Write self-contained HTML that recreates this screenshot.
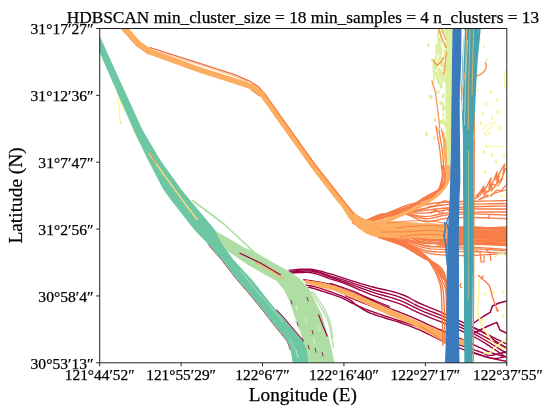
<!DOCTYPE html>
<html><head><meta charset="utf-8">
<style>
html,body{margin:0;padding:0;background:#fff;}
svg{display:block;}
text{font-family:"Liberation Serif",serif;fill:#000;stroke:#000;stroke-width:0.25px;}
.tk{font-size:15.4px;}
#plot path{fill:none;stroke-linejoin:round;stroke-linecap:butt;}
</style></head><body>
<svg width="550" height="409" viewBox="0 0 550 409">
<rect width="550" height="409" fill="#fff"/>
<defs><clipPath id="cp"><rect x="99.7" y="28.5" width="407.1" height="334.3"/></clipPath></defs>
<text id="title" x="302.9" y="22.8" font-size="17.3" text-anchor="middle">HDBSCAN min_cluster_size = 18 min_samples = 4 n_clusters = 13</text>
<g id="plot" clip-path="url(#cp)">
<path d="M113.0 72.0L118.0 95.0L120.0 121.0" stroke="#f9f79c" stroke-width="1.2"/>
<path d="M117.0 86.0L123.0 111.0" stroke="#f9f79c" stroke-width="1.0"/>
<path d="M131.0 120.0L134.0 132.0L140.0 142.0" stroke="#f9f79c" stroke-width="1.2"/>
<path d="M120.0 121.0L121.0 124.0" stroke="#fdd784" stroke-width="1.2"/>
<path d="M434.0 60.0L433.6 68.4" stroke="#dcf09b" stroke-width="2.4525130310831167" style="stroke-linecap:round"/>
<path d="M433.8 71.2L434.7 74.2" stroke="#dcf09b" stroke-width="2.71887054195497" style="stroke-linecap:round"/>
<path d="M434.1 75.7L433.4 83.5" stroke="#dcf09b" stroke-width="1.8021298346430417" style="stroke-linecap:round"/>
<path d="M436.7 45.1L436.6 52.2" stroke="#dcf09b" stroke-width="2.9598771747806345" style="stroke-linecap:round"/>
<path d="M436.0 55.8L435.7 60.6" stroke="#dcf09b" stroke-width="1.8781676560508116" style="stroke-linecap:round"/>
<path d="M436.5 62.5L436.0 69.2" stroke="#dcf09b" stroke-width="2.1719495179237547" style="stroke-linecap:round"/>
<path d="M436.3 72.6L436.6 78.5" stroke="#dcf09b" stroke-width="1.868401115442948" style="stroke-linecap:round"/>
<path d="M438.7 29.1L437.8 36.8" stroke="#dcf09b" stroke-width="1.8560725424387299" style="stroke-linecap:round"/>
<path d="M438.9 38.3L439.3 47.1" stroke="#dcf09b" stroke-width="2.9304525953132394" style="stroke-linecap:round"/>
<path d="M438.9 49.1L438.0 54.2" stroke="#dcf09b" stroke-width="2.698077667781596" style="stroke-linecap:round"/>
<path d="M439.0 57.6L437.9 65.8" stroke="#dcf09b" stroke-width="2.208888642605067" style="stroke-linecap:round"/>
<path d="M439.0 68.6L438.7 77.1" stroke="#dcf09b" stroke-width="2.1749404432114883" style="stroke-linecap:round"/>
<path d="M438.2 79.1L438.9 83.1" stroke="#dcf09b" stroke-width="2.9960721774440446" style="stroke-linecap:round"/>
<path d="M441.3 30.6L440.9 35.0" stroke="#dcf09b" stroke-width="2.3061087382939074" style="stroke-linecap:round"/>
<path d="M441.0 36.2L441.5 44.7" stroke="#dcf09b" stroke-width="1.956686192583744" style="stroke-linecap:round"/>
<path d="M441.3 47.9L440.4 56.6" stroke="#dcf09b" stroke-width="2.3214662287205243" style="stroke-linecap:round"/>
<path d="M441.0 58.1L441.8 66.1" stroke="#dcf09b" stroke-width="2.822703205072491" style="stroke-linecap:round"/>
<path d="M441.2 70.0L441.0 75.8" stroke="#dcf09b" stroke-width="2.14922714057637" style="stroke-linecap:round"/>
<path d="M441.5 78.0L441.7 81.9" stroke="#dcf09b" stroke-width="2.552357965145807" style="stroke-linecap:round"/>
<path d="M440.8 84.4L441.5 87.4" stroke="#dcf09b" stroke-width="2.8408641681327627" style="stroke-linecap:round"/>
<path d="M443.6 63.6L444.0 69.8" stroke="#dcf09b" stroke-width="2.3726867194431263" style="stroke-linecap:round"/>
<path d="M443.0 72.8L443.7 80.2" stroke="#dcf09b" stroke-width="2.497014360276954" style="stroke-linecap:round"/>
<path d="M443.5 94.7L442.9 97.2" stroke="#dcf09b" stroke-width="2.6231486783671363" style="stroke-linecap:round"/>
<path d="M443.1 103.9L442.8 106.1" stroke="#dcf09b" stroke-width="2.032032122149951" style="stroke-linecap:round"/>
<path d="M443.4 107.2L443.4 110.6" stroke="#dcf09b" stroke-width="2.0854156915964057" style="stroke-linecap:round"/>
<path d="M443.1 114.3L443.2 116.3" stroke="#dcf09b" stroke-width="1.9380893262224377" style="stroke-linecap:round"/>
<path d="M443.4 119.8L442.7 122.9" stroke="#dcf09b" stroke-width="2.4542650358019564" style="stroke-linecap:round"/>
<path d="M445.4 30.5L446.0 34.3" stroke="#dcf09b" stroke-width="2.9615963023869667" style="stroke-linecap:round"/>
<path d="M445.4 43.3L444.7 46.9" stroke="#dcf09b" stroke-width="2.5553475547715996" style="stroke-linecap:round"/>
<path d="M445.0 50.6L445.0 55.8" stroke="#dcf09b" stroke-width="2.966945553198146" style="stroke-linecap:round"/>
<path d="M445.8 76.6L445.3 82.1" stroke="#dcf09b" stroke-width="2.1436780227120944" style="stroke-linecap:round"/>
<path d="M445.8 106.0L445.0 108.8" stroke="#dcf09b" stroke-width="2.529645109109431" style="stroke-linecap:round"/>
<path d="M445.1 122.6L445.3 126.2" stroke="#dcf09b" stroke-width="2.3572040887155956" style="stroke-linecap:round"/>
<ellipse cx="428.5" cy="45.0" rx="1.2" ry="2.0" fill="#dcf09b"/>
<ellipse cx="430.5" cy="97.0" rx="1.5" ry="2.3" fill="#dcf09b"/>
<ellipse cx="438.0" cy="92.0" rx="1.8" ry="2.0" fill="#dcf09b"/>
<ellipse cx="441.0" cy="103.0" rx="1.8" ry="2.0" fill="#dcf09b"/>
<ellipse cx="435.0" cy="120.0" rx="1.3" ry="2.0" fill="#dcf09b"/>
<ellipse cx="441.0" cy="122.0" rx="1.5" ry="2.5" fill="#dcf09b"/>
<ellipse cx="437.5" cy="129.0" rx="1.3" ry="2.2" fill="#dcf09b"/>
<ellipse cx="426.5" cy="134.0" rx="1.3" ry="2.5" fill="#dcf09b"/>
<ellipse cx="434.5" cy="138.0" rx="1.2" ry="2.0" fill="#dcf09b"/>
<ellipse cx="432.0" cy="60.0" rx="1.2" ry="1.6" fill="#dcf09b"/>
<ellipse cx="491.0" cy="92.0" rx="1.3" ry="1.9" fill="#f9f79c"/>
<ellipse cx="497.0" cy="100.0" rx="1.3" ry="1.9" fill="#f9f79c"/>
<ellipse cx="485.5" cy="104.0" rx="1.3" ry="1.9" fill="#f9f79c"/>
<ellipse cx="483.0" cy="114.0" rx="1.3" ry="1.9" fill="#f9f79c"/>
<ellipse cx="498.0" cy="112.0" rx="1.3" ry="1.9" fill="#f9f79c"/>
<ellipse cx="492.0" cy="118.0" rx="1.3" ry="1.9" fill="#f9f79c"/>
<ellipse cx="481.0" cy="123.0" rx="1.3" ry="1.9" fill="#f9f79c"/>
<ellipse cx="499.0" cy="128.0" rx="1.3" ry="1.9" fill="#f9f79c"/>
<ellipse cx="484.0" cy="152.0" rx="1.3" ry="1.9" fill="#f9f79c"/>
<ellipse cx="492.0" cy="155.0" rx="1.3" ry="1.9" fill="#f9f79c"/>
<ellipse cx="504.0" cy="155.0" rx="1.3" ry="1.9" fill="#f9f79c"/>
<ellipse cx="496.0" cy="162.0" rx="1.3" ry="1.9" fill="#f9f79c"/>
<ellipse cx="485.0" cy="172.0" rx="1.3" ry="1.9" fill="#f9f79c"/>
<ellipse cx="502.0" cy="196.0" rx="1.3" ry="1.9" fill="#f9f79c"/>
<ellipse cx="484.7" cy="293.7" rx="1.3" ry="1.9" fill="#f9f79c"/>
<ellipse cx="493.5" cy="292.6" rx="1.3" ry="1.9" fill="#f9f79c"/>
<ellipse cx="502.8" cy="292.6" rx="1.3" ry="1.9" fill="#f9f79c"/>
<ellipse cx="482.5" cy="319.0" rx="1.3" ry="1.9" fill="#f9f79c"/>
<ellipse cx="502.8" cy="315.7" rx="1.3" ry="1.9" fill="#f9f79c"/>
<ellipse cx="487.0" cy="340.0" rx="1.3" ry="1.9" fill="#f9f79c"/>
<ellipse cx="500.0" cy="175.0" rx="1.3" ry="1.9" fill="#f9f79c"/>
<ellipse cx="480.0" cy="40.0" rx="0.8" ry="1.2" fill="#dcf09b"/>
<ellipse cx="484.0" cy="47.0" rx="0.8" ry="1.2" fill="#dcf09b"/>
<ellipse cx="487.0" cy="60.0" rx="0.8" ry="1.2" fill="#dcf09b"/>
<ellipse cx="483.0" cy="72.0" rx="0.8" ry="1.2" fill="#dcf09b"/>
<ellipse cx="478.0" cy="90.0" rx="0.8" ry="1.2" fill="#dcf09b"/>
<path d="M483.0 131.0L485.0 126.0L490.0 124.0L495.0 122.0L492.0 127.0L488.0 130.0L484.0 134.0L486.0 136.0L491.0 132.0" stroke="#f9f79c" stroke-width="1.2"/>
<path d="M485.6 146.0L492.0 146.3L506.0 146.5" stroke="#f9f79c" stroke-width="1.2"/>
<ellipse cx="486.0" cy="146.0" rx="1.4" ry="1.6" fill="#f9f79c"/>
<path d="M505.0 70.0L504.5 82.0L505.0 90.0" stroke="#f9f79c" stroke-width="1.3"/>
<path d="M288.7 270.3L290.3 270.1L292.7 269.9L295.4 269.6L298.2 269.4L300.8 269.2L303.1 269.1L305.3 269.1L307.5 269.1L310.0 269.2L312.7 269.5L315.9 270.1L319.3 270.9L323.0 271.8L326.6 272.8L330.1 273.8L333.2 274.7L336.0 275.6L338.9 276.6L342.1 277.7L345.9 278.9L350.4 280.3L355.4 281.9L360.8 283.6L366.4 285.2L371.9 286.8L377.6 288.2L383.5 289.5L389.5 290.9L395.1 292.3L400.2 293.8L404.4 295.5L408.0 297.2L411.3 299.0L414.8 301.0L419.0 303.0L423.9 305.1L429.3 307.4L435.0 309.7L440.8 312.2L446.8 314.8L452.8 317.6L459.1 320.6L465.5 323.7L471.8 326.9L477.9 329.9L484.2 332.9L490.8 336.2L497.1 339.3L502.4 341.9L506.2 343.8" stroke="#9e0142" stroke-width="1.4"/>
<path d="M289.2 271.6L290.8 271.4L293.1 271.0L295.7 270.7L298.5 270.3L301.0 270.1L303.3 269.9L305.6 269.8L307.9 269.7L310.3 269.8L313.0 270.2L316.1 271.0L319.5 272.1L323.0 273.4L326.6 274.6L330.0 275.8L333.2 276.8L336.1 277.7L339.1 278.6L342.4 279.6L346.2 280.8L350.7 282.3L355.7 284.1L361.0 285.9L366.4 287.7L371.9 289.5L377.4 291.0L383.3 292.5L389.1 293.9L394.7 295.4L399.8 297.1L404.1 298.8L407.7 300.6L411.1 302.5L414.8 304.5L419.0 306.6L424.0 308.7L429.4 310.8L435.1 313.0L441.0 315.3L446.9 317.9L453.0 320.7L459.3 323.8L465.7 327.0L472.1 330.2L478.2 333.4L484.4 336.7L491.0 340.2L497.2 343.6L502.5 346.5L506.2 348.6" stroke="#9e0142" stroke-width="1.4"/>
<path d="M290.2 272.3L291.6 272.2L293.6 272.0L296.0 271.7L298.4 271.5L300.8 271.4L303.1 271.2L305.3 271.0L307.7 270.9L310.2 271.0L312.9 271.4L316.0 272.2L319.3 273.2L322.8 274.4L326.3 275.7L329.7 276.9L332.8 278.0L335.7 279.0L338.7 280.0L342.0 281.1L345.9 282.5L350.5 284.2L355.6 286.1L361.1 288.1L366.7 290.2L372.3 292.1L377.9 293.8L383.8 295.5L389.6 297.2L395.2 298.9L400.3 300.6L404.5 302.3L408.1 304.1L411.5 305.9L415.1 307.7L419.3 309.7L424.2 311.8L429.5 313.9L435.2 316.1L441.0 318.4L446.8 321.0L452.9 323.7L459.1 326.6L465.5 329.6L471.7 332.7L477.8 335.9L484.1 339.5L490.7 343.5L496.9 347.4L502.3 350.7L506.1 353.1" stroke="#9e0142" stroke-width="1.4"/>
<path d="M290.7 273.0L292.1 273.0L294.1 272.8L296.4 272.7L298.8 272.6L301.1 272.5L303.2 272.5L305.4 272.4L307.6 272.4L310.0 272.5L312.8 273.0L315.9 273.8L319.4 274.9L323.1 276.2L326.8 277.5L330.2 278.8L333.4 279.8L336.3 280.7L339.2 281.6L342.4 282.7L346.2 284.1L350.6 285.9L355.6 288.1L360.9 290.4L366.4 292.7L371.8 294.8L377.4 296.7L383.3 298.6L389.2 300.3L394.8 302.1L399.9 303.9L404.2 305.7L407.9 307.5L411.4 309.3L415.0 311.2L419.3 313.1L424.2 315.2L429.6 317.4L435.2 319.6L441.1 321.9L446.9 324.4L453.0 327.1L459.3 329.9L465.7 332.8L472.1 335.8L478.1 339.0L484.3 342.7L490.8 346.8L496.9 351.0L502.1 354.5L505.8 357.1" stroke="#9e0142" stroke-width="1.4"/>
<path d="M303.2 279.7L305.5 280.0L308.8 280.5L312.5 281.0L316.3 281.6L319.8 282.2L322.8 282.8L325.7 283.4L328.5 284.0L331.3 284.7L334.3 285.6L337.3 286.6L340.3 287.7L343.4 288.9L346.6 290.2L349.9 291.5L353.3 292.8L356.7 294.2L360.2 295.6L363.9 297.1L367.8 298.7L372.0 300.5L376.6 302.6L381.3 304.7L385.9 306.7L390.3 308.6L394.3 310.2L398.2 311.7L402.0 313.1L405.8 314.6L410.0 316.3L414.7 318.3L419.8 320.7L425.0 323.1L429.8 325.3L434.0 327.2L437.1 328.6L439.6 329.6L441.7 330.5L444.1 331.5L447.2 332.8L451.2 334.6L455.7 336.6L460.5 338.7L465.3 340.9L469.9 342.9L474.1 344.8L478.2 346.8L482.3 348.7L486.1 350.5L489.8 352.1L493.6 353.4L497.3 354.6L500.8 355.5L503.7 356.4L505.9 357.0" stroke="#9e0142" stroke-width="1.4"/>
<path d="M329.8 283.2L332.5 284.1L336.5 285.4L341.0 286.9L345.7 288.5L349.9 290.0L353.6 291.4L357.1 292.9L360.6 294.5L364.2 296.1L368.1 297.7L372.5 299.6L377.6 301.7L382.6 303.7L386.9 305.5L390.0 306.8" stroke="#9e0142" stroke-width="1.2"/>
<path d="M306.0 285.0L307.7 285.4L310.0 285.8L312.9 286.3L316.2 287.1L320.0 288.2L324.7 289.8L330.3 291.7L336.1 293.8L341.6 295.9L346.0 297.8L349.1 299.4L351.3 300.9L353.1 302.4L354.8 303.8L356.7 305.2L358.8 306.6L360.8 308.0L362.9 309.3L365.2 310.7L367.8 312.0L370.9 313.3L374.4 314.5L378.1 315.8L381.7 316.9L385.1 318.0L388.2 319.0L391.0 319.8L393.7 320.6L396.6 321.4L399.9 322.5L403.5 323.8L407.2 325.1L411.2 326.6L415.5 328.3L420.0 330.2L425.0 332.5L430.4 335.1L436.0 337.9L441.5 340.6L446.8 343.0L451.7 345.1L456.4 347.0L461.0 348.7L465.5 350.3L469.8 351.9L474.2 353.3L478.4 354.7L482.5 355.9L486.4 357.0L490.2 358.0L493.9 358.9L497.6 359.6L501.0 360.3L503.9 360.8L506.0 361.2" stroke="#9e0142" stroke-width="1.4"/>
<path d="M308.2 287.0L309.7 287.4L311.7 288.0L314.2 288.7L317.0 289.5L320.1 290.5L323.7 291.6L327.8 293.0L332.2 294.4L336.4 295.8L340.0 297.1L342.9 298.3L345.3 299.5L347.4 300.7L349.6 301.8L352.0 303.0L354.5 304.2L356.9 305.4L359.6 306.6L362.5 307.9L366.0 309.3L370.1 310.8L374.6 312.4L379.5 314.1L384.7 315.9L390.1 317.7L395.8 319.6L401.9 321.5L408.2 323.6L414.4 325.7L420.3 327.9L425.9 330.3L431.5 332.9L436.9 335.5L442.1 338.1L447.0 340.3L452.0 342.2L456.9 344.0L461.5 345.6L465.4 346.8L468.2 347.8" stroke="#9e0142" stroke-width="1.4"/>
<path d="M344.8 295.5L347.8 296.7L351.9 298.4L356.8 300.4L362.2 302.6L367.7 304.8L373.6 307.3L380.0 309.9L386.6 312.7L393.3 315.5L399.7 318.1L406.2 320.7L412.7 323.3L419.1 325.8L425.0 328.2L430.2 330.2L434.6 332.1L438.6 333.7L442.0 335.1L444.8 336.3L446.8 337.1" stroke="#9e0142" stroke-width="1.2"/>
<path d="M472.1 326.8L473.9 327.6L476.5 328.8L479.5 330.3L482.6 331.8L485.2 333.3L487.5 334.8L489.7 336.5L491.7 338.1L493.8 339.8L495.8 341.3L498.0 342.7L500.4 344.2L502.6 345.5L504.6 346.7L505.9 347.5" stroke="#9e0142" stroke-width="1.4"/>
<path d="M472.3 349.2L473.6 349.6L475.5 350.3L477.7 351.0L479.9 351.8L481.8 352.5L483.4 353.1L484.8 353.9L486.1 354.6L487.5 355.1L489.0 355.4L490.7 355.4L492.4 355.2L494.3 354.8L496.1 354.3L497.8 353.9L499.6 353.5L501.6 353.0L503.4 352.5L505.0 352.0L506.1 351.7" stroke="#9e0142" stroke-width="1.4"/>
<path d="M472.0 352.0L473.6 352.5L475.9 353.3L478.5 354.2L481.2 355.1L483.7 355.9L486.0 356.6L488.3 357.3L490.6 357.9L492.9 358.3L495.1 358.5L497.4 358.3L499.9 357.9L502.3 357.2L504.3 356.7L505.7 356.3" stroke="#9e0142" stroke-width="1.4"/>
<path d="M507.0 301.0L499.0 303.0L492.4 306.0L490.2 312.4L484.0 316.0L478.0 320.0L474.0 323.0" stroke="#9e0142" stroke-width="1.5"/>
<path d="M474.0 333.0L478.0 331.0L488.0 326.0L496.8 322.4L500.0 330.0L507.0 333.4" stroke="#9e0142" stroke-width="1.5"/>
<path d="M305.2 281.5L320.1 283.1L335.2 287.0L352.5 293.3L368.6 300.8L390.9 310.7L412.5 320.1L435.3 329.6L448.0 335.7L458.5 339.7L466.0 342.0" stroke="#fdae61" stroke-width="2.4"/>
<path d="M305.1 281.5L319.9 284.1L335.0 287.8L352.3 294.2L368.4 301.6L390.2 311.5L412.4 320.5L434.4 330.5L447.3 337.3L458.1 340.5L466.3 342.2" stroke="#fdae61" stroke-width="2.4"/>
<path d="M305.0 281.3L319.9 284.2L334.9 288.0L352.1 295.0L367.8 302.0L390.3 312.3L412.2 321.5L434.0 332.2L446.9 339.0L458.1 341.8L465.9 343.2" stroke="#fdae61" stroke-width="2.4"/>
<path d="M305.1 281.7L319.8 285.0L334.5 288.8L351.4 295.9L367.5 302.5L389.4 313.5L411.9 322.4L433.2 333.1L446.3 340.5L457.6 342.3L465.7 343.9" stroke="#fdae61" stroke-width="2.4"/>
<path d="M305.2 281.8L319.6 286.0L334.4 289.7L351.1 296.4L367.3 303.4L389.1 314.1L411.0 323.0L432.5 334.4L445.5 341.8L457.5 343.1L465.8 344.3" stroke="#fdae61" stroke-width="2.4"/>
<path d="M420.0 326.0L432.0 333.0L444.0 341.5" stroke="#f77c46" stroke-width="1.0"/>
<path d="M354.1 221.8L356.2 222.9L359.3 224.6L363.2 226.2L367.9 227.4L373.6 228.1L380.3 228.5L387.6 228.6L394.8 228.4L402.2 227.8L409.9 226.7L417.4 225.6L424.4 225.1L430.4 225.2L435.7 225.8L441.0 226.6L446.8 227.1L453.3 227.5L460.1 227.8L467.2 228.0L474.5 228.0L483.0 227.9L492.3 227.7L500.8 227.4L506.6 227.2" stroke="#f77c46" stroke-width="1.6"/>
<path d="M352.0 222.2L354.7 223.4L358.6 225.0L363.3 226.7L368.5 227.8L374.3 228.3L380.8 228.4L387.8 228.3L394.9 228.1L402.4 227.9L410.4 227.6L418.3 227.2L425.3 227.0L431.1 226.9L436.0 227.0L440.8 227.1L446.4 227.1L453.1 227.1L460.3 227.0L467.9 226.9L475.5 227.1L484.0 227.6L493.2 228.2L501.5 228.9L507.3 229.4" stroke="#f77c46" stroke-width="1.6"/>
<path d="M356.7 217.5L358.4 218.8L360.8 220.8L364.1 222.8L368.3 224.6L373.9 225.9L380.6 227.1L387.9 228.0L395.2 228.5L402.5 228.4L410.1 227.9L417.5 227.2L424.4 227.0L430.4 227.2L435.7 227.8L441.1 228.4L447.0 228.8L453.6 228.9L460.7 228.8L468.1 228.7L475.5 228.5L483.9 228.3L492.9 228.0L501.0 227.8L506.7 227.6" stroke="#f77c46" stroke-width="1.6"/>
<path d="M358.5 219.2L359.8 220.4L361.4 222.2L364.0 224.0L367.8 225.3L373.3 225.7L380.3 225.7L387.9 225.7L395.3 226.1L402.7 227.3L410.3 229.0L417.8 230.6L424.6 231.5L430.5 231.5L435.8 230.9L441.0 230.1L446.7 229.7L453.1 229.9L459.9 230.2L467.0 230.6L474.4 231.0L483.0 231.2L492.3 231.4L500.9 231.5L506.8 231.7" stroke="#f77c46" stroke-width="1.6"/>
<path d="M352.6 222.6L355.1 223.9L358.5 225.8L362.9 227.7L367.9 229.1L373.8 229.6L380.6 229.7L387.9 229.6L395.2 229.6L402.8 229.7L410.7 229.8L418.4 229.9L425.4 230.2L431.2 230.6L436.1 231.1L441.0 231.7L446.5 232.0L453.0 232.0L460.0 231.9L467.3 231.7L474.8 231.7L483.3 231.8L492.6 232.1L501.0 232.3L506.8 232.5" stroke="#f77c46" stroke-width="1.6"/>
<path d="M353.1 217.4L355.5 218.3L358.8 219.7L363.1 221.2L368.0 222.5L373.9 223.5L380.7 224.4L388.0 225.4L395.4 226.5L402.9 228.2L410.9 230.1L418.6 231.8L425.6 233.0L431.4 233.3L436.4 233.1L441.3 232.6L447.0 232.3L453.5 232.4L460.6 232.5L468.0 232.6L475.4 232.6L483.7 232.3L492.7 231.9L500.8 231.5L506.4 231.2" stroke="#f77c46" stroke-width="1.6"/>
<path d="M356.6 215.8L358.4 217.0L360.8 218.8L364.1 220.7L368.3 222.6L373.8 224.4L380.2 226.2L387.3 228.0L394.5 229.6L402.1 231.1L410.1 232.6L418.0 233.8L425.1 234.5L431.1 234.5L436.2 233.9L441.2 233.2L446.8 232.7L453.3 232.5L460.1 232.4L467.2 232.4L474.6 232.6L483.2 232.9L492.6 233.5L501.2 234.0L507.1 234.4" stroke="#f77c46" stroke-width="1.6"/>
<path d="M357.8 216.9L359.1 217.9L360.9 219.3L363.6 220.9L367.5 222.4L373.0 223.8L379.9 225.2L387.4 226.6L394.9 227.9L402.5 229.1L410.4 230.4L418.1 231.5L425.2 232.4L431.0 233.2L436.0 233.7L441.0 234.2L446.6 234.4L453.1 234.4L460.1 234.1L467.4 233.7L474.9 233.5L483.4 233.5L492.6 233.6L501.0 233.7L506.8 233.8" stroke="#f77c46" stroke-width="1.6"/>
<path d="M355.0 218.1L356.9 219.0L359.6 220.3L363.1 221.7L367.6 223.2L373.5 224.6L380.5 226.1L388.0 227.6L395.5 229.3L403.0 231.4L410.8 233.8L418.4 236.0L425.4 237.4L431.3 237.7L436.6 237.2L441.8 236.5L447.5 236.0L453.8 236.0L460.4 236.2L467.3 236.4L474.6 236.5L483.1 236.4L492.5 236.2L501.1 236.0L507.1 235.8" stroke="#f77c46" stroke-width="1.6"/>
<path d="M355.0 223.7L356.9 224.7L359.5 226.1L363.0 227.7L367.5 229.2L373.4 230.5L380.4 231.8L387.9 233.0L395.4 234.0L402.7 234.8L410.3 235.4L417.7 235.9L424.6 236.3L430.7 236.7L436.2 237.1L441.6 237.3L447.5 237.3L454.0 237.0L460.7 236.5L467.7 235.9L475.0 235.5L483.5 235.5L493.0 235.6L501.5 235.8L507.5 236.0" stroke="#f77c46" stroke-width="1.6"/>
<path d="M353.7 223.5L355.9 224.5L359.0 225.8L362.9 227.3L367.6 228.8L373.4 230.4L380.2 232.1L387.6 233.7L394.9 235.2L402.4 236.5L410.2 237.7L417.9 238.7L424.9 239.3L430.7 239.6L435.9 239.5L440.9 239.2L446.7 238.9L453.3 238.6L460.5 238.1L467.9 237.7L475.5 237.5L483.9 237.7L493.1 238.0L501.3 238.4L507.1 238.7" stroke="#f77c46" stroke-width="1.6"/>
<path d="M356.7 215.4L358.3 216.5L360.6 218.0L363.7 219.8L367.9 221.5L373.5 223.2L380.3 225.0L387.6 226.9L394.9 229.1L402.3 232.0L410.0 235.3L417.5 238.4L424.4 240.5L430.4 241.1L435.8 240.8L441.1 240.2L447.0 239.8L453.6 240.0L460.6 240.3L467.9 240.7L475.3 240.7L483.7 240.5L492.9 240.0L501.2 239.5L506.9 239.2" stroke="#f77c46" stroke-width="1.6"/>
<path d="M354.9 219.4L356.8 220.5L359.5 222.1L363.0 223.9L367.5 225.5L373.4 227.0L380.4 228.4L387.9 229.8L395.3 231.4L402.7 233.3L410.2 235.4L417.6 237.4L424.5 238.9L430.4 239.9L435.7 240.5L441.0 240.8L446.9 241.1L453.3 241.2L460.0 241.1L467.1 240.9L474.6 240.8L483.2 240.8L492.8 240.8L501.5 240.8L507.6 240.8" stroke="#f77c46" stroke-width="1.6"/>
<path d="M356.3 222.9L357.9 223.7L360.1 225.0L363.2 226.5L367.5 228.2L373.2 230.1L380.2 232.3L387.8 234.6L395.3 236.6L402.9 238.7L410.8 240.7L418.5 242.4L425.5 243.4L431.4 243.5L436.6 242.8L441.7 241.9L447.4 241.5L453.8 241.7L460.6 242.4L467.7 243.0L475.0 243.2L483.4 242.8L492.6 242.0L500.9 241.2L506.6 240.6" stroke="#f77c46" stroke-width="1.6"/>
<path d="M353.9 219.2L356.2 220.2L359.5 221.6L363.5 223.3L368.3 225.1L374.1 226.8L380.7 228.7L387.9 230.6L395.0 232.7L402.4 235.2L410.2 238.0L417.8 240.5L424.8 242.4L430.8 243.3L436.0 243.5L441.3 243.4L447.1 243.4L453.6 243.5L460.6 243.6L468.0 243.6L475.5 243.7L484.0 243.8L493.3 243.8L501.7 243.9L507.6 244.0" stroke="#f77c46" stroke-width="1.6"/>
<path d="M359.9 218.2L360.9 219.1L362.4 220.5L364.7 222.1L368.3 224.0L373.7 226.1L380.5 228.4L388.0 230.9L395.4 233.6L402.8 236.8L410.6 240.4L418.2 243.8L425.2 246.0L431.1 246.8L436.3 246.5L441.4 245.8L447.1 245.3L453.5 245.0L460.3 244.6L467.4 244.3L474.8 244.2L483.2 244.4L492.3 244.8L500.7 245.2L506.4 245.5" stroke="#f77c46" stroke-width="1.6"/>
<path d="M458.0 235.0L480.0 235.3L507.0 236.0" stroke="#f77c46" stroke-width="15" opacity="0.9"/>
<path d="M360.0 222.5L363.0 221.8L367.4 220.9L372.4 219.8L377.6 218.7L382.8 217.5L388.5 216.3L394.3 215.0L400.2 213.4L406.2 211.4L412.3 209.1L418.5 206.8L424.4 205.0L429.9 203.8L435.2 203.0L440.6 202.5L446.5 202.0L453.0 201.7L460.0 201.5L467.2 201.4L474.7 201.3L483.2 201.1L492.6 200.9L501.2 200.7L507.1 200.6" stroke="#f77c46" stroke-width="1.4"/>
<path d="M359.6 222.5L362.7 221.8L367.3 220.8L372.5 219.7L377.7 218.6L382.8 217.5L388.1 216.3L393.7 215.1L399.5 213.9L405.8 212.5L412.5 211.0L419.2 209.5L425.4 208.2L431.0 207.1L436.1 206.1L441.2 205.3L446.9 204.6L453.2 204.3L459.9 204.1L467.0 204.1L474.4 204.1L483.0 203.9L492.5 203.8L501.1 203.7L507.1 203.6" stroke="#f77c46" stroke-width="1.4"/>
<path d="M360.5 222.3L363.5 221.9L367.8 221.3L372.7 220.5L377.7 219.5L382.7 218.1L388.1 216.5L393.6 214.8L399.5 213.4L405.6 212.4L412.2 211.6L418.7 211.0L424.9 210.3L430.4 209.7L435.5 209.0L440.7 208.5L446.5 208.0L452.9 207.6L459.7 207.2L466.9 206.9L474.4 206.7L483.1 206.5L492.7 206.3L501.5 206.1L507.5 206.0" stroke="#f77c46" stroke-width="1.4"/>
<path d="M360.0 222.2L363.2 221.6L367.9 220.7L373.1 219.7L378.4 218.6L383.4 217.2L388.7 215.5L394.1 213.9L399.8 212.9L405.8 212.6L412.0 212.8L418.3 213.1L424.5 213.1L430.2 212.5L435.8 211.5L441.4 210.6L447.3 209.9L453.7 209.5L460.2 209.3L467.1 209.1L474.4 209.0L483.0 209.0L492.5 209.0L501.2 209.0L507.3 209.0" stroke="#f77c46" stroke-width="1.4"/>
<path d="M359.7 221.5L362.8 221.0L367.3 220.3L372.5 219.4L377.7 218.4L382.8 217.1L388.3 215.4L393.9 213.9L399.8 213.1L406.0 213.5L412.5 214.7L419.0 216.0L425.2 216.6L430.8 216.1L436.1 215.0L441.4 213.8L447.3 212.9L453.7 212.5L460.5 212.3L467.7 212.2L475.1 212.1L483.6 212.0L492.9 212.0L501.4 212.0L507.3 212.0" stroke="#f77c46" stroke-width="1.4"/>
<path d="M360.6 221.7L363.7 221.1L368.2 220.4L373.3 219.5L378.5 218.4L383.4 216.8L388.6 214.7L394.0 212.9L399.7 212.2L405.9 213.1L412.5 215.3L419.0 217.5L425.3 218.7L430.9 218.4L436.1 217.3L441.4 215.9L447.3 214.9L453.8 214.4L460.8 214.1L468.1 213.9L475.5 213.9L483.8 214.1L492.8 214.5L501.0 214.9L506.7 215.2" stroke="#f77c46" stroke-width="1.4"/>
<path d="M360.2 222.6L363.3 222.1L367.7 221.4L372.8 220.5L378.0 219.4L383.2 217.6L388.7 215.3L394.4 213.3L400.2 212.6L406.3 214.1L412.6 216.9L418.9 219.9L424.9 221.7L430.5 221.6L435.8 220.5L441.2 219.1L447.1 218.2L453.5 217.8L460.3 217.6L467.3 217.5L474.7 217.6L483.1 217.7L492.3 218.1L500.7 218.4L506.5 218.7" stroke="#f77c46" stroke-width="1.4"/>
<path d="M361.5 223.5L364.7 222.3L369.2 220.7L374.4 218.7L379.8 216.6L385.4 214.2L391.5 211.4L397.7 208.8L403.4 206.4L408.8 204.7L414.0 203.3L418.8 202.1L423.2 200.6L427.1 199.1L430.6 197.5L433.7 195.7L436.2 193.3L438.3 190.0L440.0 186.0L441.2 181.9L442.0 178.1L442.3 174.8L442.1 171.7L441.7 168.7L441.3 165.4L441.1 162.0L440.8 158.7L440.4 154.9L439.9 150.5L439.0 144.4L437.8 137.1L436.7 130.3L436.0 125.6" stroke="#f77c46" stroke-width="1.3"/>
<path d="M362.5 222.5L365.5 221.4L369.6 219.9L374.5 218.1L379.6 216.2L385.2 214.2L391.4 212.1L397.6 209.9L403.4 208.0L408.8 206.6L414.0 205.4L418.9 204.2L423.4 202.6L427.4 200.6L431.0 198.2L434.3 195.6L437.0 192.7L439.2 189.2L441.0 185.2L442.3 181.2L443.1 177.5L443.3 174.0L442.9 170.5L442.3 167.4L441.9 165.3" stroke="#f77c46" stroke-width="1.3"/>
<path d="M361.8 222.9L364.8 221.7L369.1 220.0L374.1 218.0L379.4 216.1L385.2 214.3L391.5 212.4L397.9 210.5L403.7 208.5L409.0 206.3L413.9 204.1L418.5 201.9L422.8 199.8L427.1 197.9L431.1 196.2L434.7 194.4L437.8 192.0L440.3 189.0L442.3 185.4L443.8 181.7L444.7 178.1L444.8 174.5L444.2 170.7L443.3 167.3L442.7 164.9" stroke="#f77c46" stroke-width="1.3"/>
<path d="M361.8 223.2L364.9 221.9L369.4 220.0L374.6 217.8L380.0 215.8L385.8 213.9L392.2 212.1L398.6 210.2L404.4 208.3L409.7 206.3L414.6 204.3L419.1 202.1L423.4 200.0L427.3 197.9L431.0 195.8L434.3 193.6L437.2 191.1L439.9 188.3L442.3 185.2L444.3 181.9L445.5 178.6L445.7 175.3L445.2 171.9L444.3 168.5L443.6 165.0L443.3 161.5L443.0 158.1L442.7 154.5L442.2 150.4L441.4 145.1L440.4 139.1L439.5 133.5L438.8 129.6" stroke="#f77c46" stroke-width="1.3"/>
<path d="M362.4 222.7L365.5 221.4L370.0 219.5L375.2 217.4L380.5 215.5L386.1 214.1L392.0 212.8L398.0 211.4L403.7 209.6L408.8 207.3L413.8 204.7L418.5 201.9L423.0 199.4L427.3 197.1L431.5 195.1L435.3 192.9L438.6 190.5L441.3 187.7L443.5 184.6L445.3 181.4L446.4 178.2L446.8 174.7L446.4 170.9L445.8 167.5L445.4 165.2" stroke="#f77c46" stroke-width="1.3"/>
<path d="M361.9 222.9L365.1 221.4L369.7 219.3L375.0 217.0L380.5 215.0L386.2 213.6L392.5 212.4L398.7 211.1L404.5 209.4L409.5 207.2L414.0 204.6L418.3 201.8L422.6 199.3L427.2 197.1L431.7 195.0L436.0 192.9L439.5 190.5L442.2 187.8L444.3 184.8L445.8 181.7L446.9 178.5L447.1 174.9L446.7 171.0L446.1 167.4L445.7 165.0" stroke="#f77c46" stroke-width="1.3"/>
<path d="M362.3 223.2L365.3 221.6L369.6 219.3L374.6 216.9L379.8 215.0L385.4 213.9L391.6 213.2L397.8 212.4L403.6 211.0L408.9 208.8L413.9 205.9L418.6 202.9L423.2 200.1L427.6 197.5L431.9 195.1L435.8 192.6L439.2 189.9L442.2 187.1L444.8 184.2L446.9 181.2L448.2 178.1L448.5 175.0L448.0 171.7L447.1 168.4L446.5 165.0L446.2 161.4L446.0 157.8L445.8 153.9L445.4 149.7L444.5 144.5L443.4 138.5L442.3 133.1L441.5 129.3" stroke="#f77c46" stroke-width="1.3"/>
<path d="M362.4 222.6L365.3 221.0L369.5 218.8L374.4 216.5L379.6 214.6L385.3 213.6L391.6 213.1L398.0 212.5L403.8 211.2L408.9 208.9L413.6 205.9L418.1 202.7L422.6 199.8L427.2 197.3L431.8 195.0L436.1 192.7L439.8 190.1L442.9 187.1L445.6 184.0L447.7 180.8L449.1 177.5L449.6 174.0L449.3 170.2L448.7 166.9L448.4 164.5" stroke="#f77c46" stroke-width="1.3"/>
<path d="M362.6 223.4L365.6 221.6L370.0 219.1L375.0 216.5L380.3 214.5L385.8 213.7L391.9 213.5L398.0 213.2L403.6 212.0L408.7 209.3L413.4 205.6L418.0 201.8L422.5 198.4L427.3 195.7L432.2 193.2L436.8 190.9L440.7 188.4L443.8 186.0L446.3 183.6L448.2 181.1L449.6 178.3L450.1 174.9L449.8 171.0L449.3 167.5L448.9 165.0" stroke="#f77c46" stroke-width="1.3"/>
<path d="M364.2 230.0L366.7 231.0L370.3 232.6L374.7 234.4L379.6 236.1L385.2 237.8L391.5 239.5L398.0 241.3L403.9 243.3L409.1 245.5L414.0 247.8L418.5 250.3L422.5 252.9L425.8 255.9L428.5 259.1L430.8 262.3L433.1 265.3L435.2 268.1L437.2 270.7L439.0 273.2L440.9 275.7L443.0 278.2L445.1 280.7L447.0 282.9L448.3 284.5" stroke="#f77c46" stroke-width="1.4"/>
<path d="M364.2 230.4L366.9 231.5L370.7 233.0L375.3 234.7L380.2 236.4L385.7 237.9L391.9 239.5L398.2 241.2L403.9 243.2L409.1 245.3L413.9 247.7L418.3 250.2L422.2 253.0L425.3 256.1L428.0 259.4L430.2 262.9L432.3 266.3L434.3 269.8L436.0 273.3L437.5 276.8L438.8 280.2L439.7 282.9L440.3 285.1L440.8 287.9L441.2 291.9L441.6 297.9L441.8 305.2L442.0 312.9L442.2 320.1L442.5 327.4L442.6 334.8L442.8 341.3L442.9 345.9" stroke="#f77c46" stroke-width="1.4"/>
<path d="M364.5 229.6L367.1 230.9L370.9 232.7L375.3 234.8L380.2 236.7L385.7 238.4L391.8 240.1L398.1 241.8L403.9 243.8L409.1 246.0L414.0 248.4L418.5 250.9L422.6 253.4L426.0 256.1L429.0 258.9L431.6 261.7L434.1 264.6L436.4 267.6L438.6 270.6L440.5 273.7L442.3 276.5L444.1 279.4L445.7 282.3L447.1 284.8L448.0 286.5" stroke="#f77c46" stroke-width="1.4"/>
<path d="M364.1 230.0L366.8 231.2L370.7 232.8L375.3 234.7L380.3 236.6L385.8 238.5L392.1 240.4L398.4 242.4L404.2 244.6L409.2 246.9L413.8 249.4L418.0 251.9L422.0 254.4L425.7 256.9L429.2 259.4L432.3 262.0L435.0 264.7L437.4 267.4L439.3 270.1L441.1 273.0L442.7 275.9L444.4 279.1L446.0 282.7L447.4 285.8L448.3 288.0" stroke="#f77c46" stroke-width="1.4"/>
<path d="M364.6 229.8L367.0 231.0L370.5 232.7L374.7 234.6L379.5 236.5L385.1 238.3L391.5 240.0L398.0 241.9L403.9 244.0L408.9 246.5L413.6 249.3L417.9 252.2L421.9 254.9L425.7 257.4L429.2 259.9L432.4 262.3L435.2 264.8L437.6 267.4L439.5 269.9L441.1 272.7L442.7 275.7L444.4 279.5L446.0 283.8L447.3 287.8L448.3 290.5" stroke="#f77c46" stroke-width="1.4"/>
<path d="M363.7 230.4L366.4 231.4L370.3 233.0L374.9 234.8L379.9 236.7L385.4 238.6L391.5 240.7L397.8 243.0L403.6 245.3L408.8 247.8L413.7 250.4L418.3 253.0L422.4 255.7L425.9 258.2L429.0 260.6L431.6 263.2L434.0 266.1L436.0 269.5L437.6 273.2L439.0 277.0L440.2 280.6L441.2 283.3L442.1 285.5L442.7 288.2L443.3 292.2L443.8 298.2L444.2 305.5L444.5 313.3L444.7 320.4L444.8 327.1L444.9 333.9L444.9 339.8L445.0 343.9" stroke="#f77c46" stroke-width="1.4"/>
<path d="M364.1 229.6L366.8 230.9L370.7 232.8L375.4 234.9L380.4 237.0L386.0 238.9L392.3 240.9L398.7 242.9L404.4 245.1L409.3 247.6L413.8 250.4L417.9 253.1L421.9 255.7L425.8 258.0L429.5 260.1L432.9 262.2L435.9 264.6L438.3 267.2L440.3 270.0L441.9 273.0L443.4 276.3L444.8 280.4L446.0 285.2L447.0 289.6L447.7 292.7" stroke="#f77c46" stroke-width="1.4"/>
<path d="M363.8 230.0L366.5 231.3L370.3 233.3L374.9 235.5L379.9 237.6L385.6 239.5L391.9 241.4L398.4 243.4L404.2 245.6L409.3 248.3L414.0 251.3L418.4 254.2L422.5 256.9L426.3 259.2L429.8 261.2L433.0 263.2L436.0 265.4L438.7 267.8L441.2 270.2L443.3 273.0L445.0 276.3L446.1 280.9L446.8 286.3L447.3 291.4L447.6 294.9" stroke="#f77c46" stroke-width="1.4"/>
<path d="M363.4 229.4L366.4 230.9L370.5 233.1L375.4 235.5L380.5 237.8L386.0 239.7L392.1 241.6L398.1 243.5L403.7 245.7L408.6 248.3L413.2 251.1L417.5 254.0L421.6 256.7L425.5 259.0L429.3 261.0L432.7 263.2L435.5 265.8L437.8 269.2L439.4 273.0L440.8 276.9L442.1 280.5L443.3 283.1L444.3 285.2L445.2 287.7L445.9 291.6L446.3 297.6L446.5 305.0L446.6 312.8L446.8 320.1L446.9 327.2L447.1 334.3L447.2 340.6L447.3 345.0" stroke="#f77c46" stroke-width="1.4"/>
<path d="M364.5 230.3L367.2 231.6L371.0 233.3L375.5 235.3L380.4 237.4L385.9 239.6L392.2 241.8L398.5 244.2L404.2 246.6L409.2 249.3L413.8 252.1L418.1 254.9L422.3 257.4L426.6 259.5L430.8 261.3L434.7 263.0L438.0 265.1L440.5 267.2L442.4 269.5L443.9 272.2L445.2 275.7L446.2 280.9L446.8 287.2L447.3 293.3L447.6 297.5" stroke="#f77c46" stroke-width="1.4"/>
<path d="M367.6 232.0L372.4 233.3L379.4 235.3L387.3 237.4L395.0 239.0L402.6 240.2L410.6 241.0L418.4 241.7L425.4 242.4L431.4 243.2L436.6 243.9L441.7 244.6L447.4 245.0L453.8 245.0L460.6 244.8L467.7 244.5L475.1 244.3L483.6 244.4L493.0 244.5L501.5 244.6L507.4 244.7" stroke="#f77c46" stroke-width="1.3"/>
<path d="M367.5 232.2L372.4 233.3L379.5 234.9L387.4 236.7L395.2 238.4L402.7 240.3L410.5 242.3L418.1 244.2L425.1 245.6L431.1 246.4L436.4 246.9L441.7 247.0L447.5 247.2L454.1 247.3L461.0 247.2L468.2 247.1L475.6 247.3L483.9 247.8L493.0 248.5L501.3 249.2L507.0 249.7" stroke="#f77c46" stroke-width="1.3"/>
<path d="M368.2 231.8L373.0 233.0L379.9 234.8L387.8 236.8L395.4 238.8L402.8 241.1L410.5 243.7L418.0 246.1L425.0 247.8L430.9 248.8L436.3 249.2L441.5 249.4L447.3 249.5L453.7 249.4L460.5 249.1L467.6 248.8L474.9 248.8L483.4 249.2L492.7 249.9L501.2 250.6L507.1 251.1" stroke="#f77c46" stroke-width="1.3"/>
<path d="M367.9 232.0L372.6 233.2L379.4 234.8L387.1 236.8L394.7 239.0L402.4 241.8L410.5 245.0L418.4 248.1L425.6 250.4L431.5 251.5L436.7 251.9L441.7 252.0L447.4 252.0L453.7 252.0L460.4 251.7L467.4 251.5L474.8 251.5L483.3 251.9L492.7 252.6L501.2 253.2L507.1 253.7" stroke="#f77c46" stroke-width="1.3"/>
<path d="M368.3 232.5L373.0 233.4L379.8 234.6L387.5 236.3L395.1 238.5L402.5 241.6L410.2 245.4L417.8 249.2L424.8 252.0L430.6 253.6L435.8 254.4L440.9 254.8L446.6 255.1L453.2 255.4L460.2 255.6L467.6 255.5L475.1 255.4L483.7 254.9L493.0 254.3L501.5 253.7L507.3 253.3" stroke="#f77c46" stroke-width="1.3"/>
<path d="M353.9 214.2L356.2 216.2L359.6 219.0L363.1 221.2L365.9 222.2L368.9 222.6L373.1 222.7L379.4 222.8L386.9 222.6L394.9 222.6L403.0 223.1L411.5 223.7L420.2 224.3L429.9 224.7L439.7 225.2L446.6 225.5" stroke="#fdae61" stroke-width="2.8"/>
<path d="M352.6 215.0L355.3 217.0L359.2 219.8L362.9 222.0L365.7 223.3L368.3 224.1L372.5 224.7L379.2 224.8L387.3 224.6L395.6 224.5L403.5 224.7L411.5 225.1L419.8 225.5L429.7 226.1L439.9 226.8L447.0 227.2" stroke="#fdae61" stroke-width="2.8"/>
<path d="M352.6 215.4L355.2 217.2L358.8 219.8L362.4 222.1L365.3 223.5L368.2 224.5L372.5 225.3L378.9 225.9L386.5 226.4L394.6 226.9L402.8 227.4L411.5 227.9L420.2 228.3L430.1 228.4L440.0 228.4L447.0 228.4" stroke="#fdae61" stroke-width="2.8"/>
<path d="M352.1 215.9L354.6 218.2L358.2 221.5L361.9 224.2L364.8 225.8L367.8 226.8L372.1 227.5L378.6 228.1L386.4 228.4L394.5 228.7L402.6 228.9L411.0 228.9L419.6 229.1L429.4 229.4L439.4 229.7L446.4 230.0" stroke="#fdae61" stroke-width="2.8"/>
<path d="M352.0 215.7L354.4 218.0L357.8 221.1L361.4 223.9L364.5 225.9L367.8 227.5L372.4 228.8L378.7 229.8L386.3 230.3L394.3 230.8L402.4 231.3L410.9 231.6L419.6 231.8L429.5 231.8L439.5 231.7L446.5 231.7" stroke="#fdae61" stroke-width="2.8"/>
<path d="M351.6 217.1L353.9 219.4L357.2 222.7L360.7 225.6L363.5 227.9L366.5 229.8L371.0 231.3L378.0 232.0L386.5 232.3L395.2 232.5L403.5 232.7L411.9 232.8L420.5 233.0L430.4 233.4L440.5 233.9L447.6 234.2" stroke="#fdae61" stroke-width="2.8"/>
<path d="M350.1 216.7L352.6 219.4L356.1 223.2L359.8 226.6L362.9 229.1L366.1 231.0L370.7 232.5L377.8 233.4L386.4 233.8L395.1 234.1L403.4 234.5L411.8 234.9L420.3 235.2L429.9 235.3L439.5 235.3L446.2 235.3" stroke="#fdae61" stroke-width="2.8"/>
<path d="M350.4 217.9L352.6 220.1L355.8 223.4L359.3 226.6L362.7 229.4L366.5 232.2L371.4 234.3L378.4 235.6L386.6 236.3L394.9 236.8L403.0 237.0L411.1 236.9L419.6 236.9L429.6 237.2L439.9 237.5L447.2 237.7" stroke="#fdae61" stroke-width="2.8"/>
<path d="M365.2 223.1L368.7 222.5L373.7 221.8L379.4 220.9L384.8 219.6L389.9 218.1L395.2 216.3L400.3 214.3L405.4 212.2L410.3 210.0L415.1 207.6L419.8 205.2L424.3 202.9L428.7 200.6L432.9 198.5L436.9 196.2L440.1 193.4L442.6 190.2L444.5 186.8L445.8 182.8L446.6 178.1L446.6 171.9L445.9 164.7L445.0 157.6L444.3 151.9L444.1 148.1L443.9 145.3L443.9 143.3L443.8 141.9" stroke="#fdae61" stroke-width="1.8"/>
<path d="M365.1 224.1L368.8 223.6L374.0 223.0L379.8 222.1L385.3 220.8L390.3 219.0L395.1 216.8L400.0 214.4L404.8 212.1L409.7 210.0L414.5 207.9L419.3 205.7L423.8 203.4L428.3 201.1L432.7 198.8L436.7 196.2L440.1 193.3L442.7 190.0L444.9 186.4L446.4 182.4L447.4 177.6L447.6 171.6L447.0 164.7L446.2 157.8L445.6 152.2L445.2 148.2L444.8 145.1L444.5 142.7L444.3 141.1" stroke="#fdae61" stroke-width="1.8"/>
<path d="M364.8 225.3L368.5 224.7L373.8 223.8L379.7 222.7L385.2 221.3L390.3 219.6L395.4 217.4L400.4 215.1L405.3 212.9L410.1 210.8L414.7 208.6L419.2 206.4L423.7 204.0L428.1 201.5L432.6 198.8L436.7 195.9L440.2 192.8L443.1 189.7L445.3 186.5L447.0 182.9L448.1 178.3L448.3 172.5L447.6 165.6L446.7 158.5L445.9 152.1L445.2 146.2L444.5 140.4L443.8 135.4L443.3 132.0" stroke="#fdae61" stroke-width="1.8"/>
<path d="M364.8 225.8L368.5 225.2L373.7 224.5L379.7 223.4L385.2 222.0L390.2 220.2L395.2 217.9L400.1 215.5L405.0 213.2L409.9 211.1L414.9 209.1L419.7 207.0L424.2 204.7L428.5 202.1L432.6 199.3L436.4 196.3L439.8 193.1L442.8 189.9L445.5 186.6L447.7 182.9L449.0 178.3L449.3 172.2L448.7 165.0L447.7 157.9L446.9 152.0L446.4 147.4L445.9 143.7L445.4 140.8L445.1 138.8" stroke="#fdae61" stroke-width="1.8"/>
<path d="M364.8 226.7L368.4 226.0L373.7 225.0L379.6 223.8L385.2 222.3L390.2 220.5L395.2 218.4L400.2 216.2L405.1 213.9L409.9 211.7L414.8 209.5L419.5 207.2L424.0 204.7L428.3 202.1L432.4 199.5L436.2 196.6L439.6 193.4L442.8 190.0L445.6 186.4L447.9 182.4L449.4 177.7L449.8 171.7L449.4 164.9L448.5 158.0L447.8 152.2L447.2 147.6L446.4 143.6L445.7 140.4L445.2 138.1" stroke="#fdae61" stroke-width="1.8"/>
<path d="M387.1 223.0L391.3 222.6L397.2 222.0L403.8 221.4L410.0 220.9L415.8 220.8L421.6 220.7L427.1 220.8L432.2 221.1L436.8 221.7L441.1 222.6L444.7 223.5L447.3 224.1" stroke="#f77c46" stroke-width="0.9"/>
<path d="M396.2 228.1L398.4 227.8L401.6 227.3L405.4 226.8L409.7 226.5L414.9 226.1L420.9 225.8L426.9 225.6L432.2 225.5L436.9 225.8L441.2 226.2L444.7 226.7L447.3 227.0" stroke="#f77c46" stroke-width="0.9"/>
<path d="M381.1 232.0L386.5 232.0L394.2 231.9L402.7 231.8L410.1 231.7L416.2 231.3L422.0 230.8L427.3 230.3L432.1 230.2L436.7 230.6L440.9 231.3L444.5 232.0L447.0 232.5" stroke="#f77c46" stroke-width="0.9"/>
<path d="M399.2 237.4L401.0 237.0L403.4 236.4L406.5 235.8L410.2 235.3L415.0 235.0L420.7 234.7L426.5 234.5L431.7 234.5L436.4 234.7L440.8 235.1L444.5 235.5L447.1 235.8" stroke="#f77c46" stroke-width="0.9"/>
<path d="M430.6 213.5L431.5 212.8L432.7 211.7L434.1 210.7L435.6 210.3L437.0 210.8L438.6 211.9L440.1 212.9L441.5 213.2L442.7 212.3L443.7 210.6L444.7 209.0L445.8 208.1L447.0 208.4L448.3 209.5L449.5 210.7L450.3 211.5" stroke="#f77c46" stroke-width="1.2"/>
<path d="M427.8 206.7L429.4 206.5L431.7 206.1L434.2 205.6L436.5 205.0L438.7 203.9L440.8 202.6L442.8 201.3L444.6 200.7L446.2 200.9L447.6 201.7L448.8 202.6L449.6 203.2" stroke="#f77c46" stroke-width="1.2"/>
<path d="M149.5 47.3L153.0 48.6L195.0 61.8L235.0 74.8L250.0 81.3L258.0 86.5L264.0 93.0" stroke="#f26a3f" stroke-width="1.3"/>
<path d="M160.0 52.8L195.0 63.3L235.0 76.6L248.0 82.0" stroke="#fdae61" stroke-width="0.7"/>
<path d="M121.6 28.7L135.8 44.9L149.0 54.2" stroke="#f77c46" stroke-width="1.2"/>
<path d="M124.7 25.7L138.8 41.6L150.7 50.3L200.3 68.4L235.2 79.4L252.5 85.2L263.8 93.6L288.7 128.9L314.0 164.3L346.9 205.9L354.2 214.0L363.2 220.6L373.8 222.3" stroke="#fdae61" stroke-width="2.4"/>
<path d="M124.1 26.7L138.0 42.5L150.4 51.0L200.3 68.9L235.0 80.1L252.5 86.2L263.0 94.0L288.2 129.4L313.4 164.6L346.0 206.5L353.0 215.4L362.1 222.2L373.3 225.0" stroke="#fdae61" stroke-width="2.4"/>
<path d="M123.6 27.2L137.4 43.0L149.7 51.9L200.2 69.9L235.2 80.9L252.1 87.1L262.5 94.5L287.8 130.3L312.6 165.1L345.2 207.1L352.1 216.3L361.2 223.9L371.9 228.1" stroke="#fdae61" stroke-width="2.4"/>
<path d="M122.7 27.5L136.9 43.4L149.4 52.7L199.5 70.5L234.7 82.0L251.4 87.7L261.9 95.3L287.1 130.7L311.8 165.4L344.7 207.8L351.3 216.6L359.8 225.5L370.8 230.7" stroke="#fdae61" stroke-width="2.4"/>
<path d="M122.4 27.9L136.2 44.1L149.3 53.3L199.8 71.5L234.5 82.6L251.4 88.3L261.4 95.8L286.5 131.1L311.3 165.9L343.9 208.1L349.9 217.5L358.9 227.1L369.9 233.2" stroke="#fdae61" stroke-width="2.4"/>
<path d="M264.3 93.0L289.5 128.7L314.4 163.6L347.3 205.6L353.7 214.5" stroke="#f77c46" stroke-width="1.2"/>
<path d="M250.7 89.7L260.2 96.4" stroke="#f77c46" stroke-width="1.0"/>
<path d="M192.0 200.0L224.0 224.0L255.0 253.0L270.0 262.0" stroke="#aedea3" stroke-width="1.7"/>
<path d="M213.0 229.5L229.0 238.5L244.0 247.5L250.0 250.0L273.5 262.7L285.0 269.0L293.0 273.7L300.0 279.0L308.6 288.0L313.0 297.0L321.8 314.5L329.8 341.4L334.4 362.0L335.0 366.0L309.0 366.0L308.7 362.0L303.2 341.4L295.0 317.5L289.0 300.0L284.0 290.0L276.5 281.0L248.8 265.5L226.0 250.0L218.0 240.0L213.0 231.5Z" style="fill:#aedea3"/>
<path d="M311.0 292.0L313.1 295.0L316.0 299.3L319.0 304.0L321.9 308.8L324.9 313.9L327.4 319.0L329.0 324.0L330.1 329.1L331.0 334.0L332.0 339.3L332.9 344.4L333.5 348.0" stroke="#aedea3" stroke-width="1.3"/>
<path d="M312.0 291.0L314.4 293.9L317.7 298.2L321.0 303.0L324.1 308.3L327.1 314.1L329.5 320.0L331.2 326.6L332.3 333.3L333.0 338.0" stroke="#aedea3" stroke-width="1.1"/>
<path d="M239.4 253.0L260.5 263.0L280.7 275.0" stroke="#9e0142" stroke-width="1.3"/>
<path d="M255.0 262.5L270.0 270.0L283.0 278.5" stroke="#fdae61" stroke-width="1.3"/>
<path d="M318.5 314.5L323.0 326.0L327.4 336.5" stroke="#9e0142" stroke-width="1.2"/>
<path d="M291.0 300.0L292.2 304.5" stroke="#9e0142" stroke-width="1.0" opacity="0.8"/>
<path d="M297.0 322.0L298.2 326.5" stroke="#9e0142" stroke-width="1.0" opacity="0.8"/>
<path d="M302.0 338.0L303.2 342.5" stroke="#9e0142" stroke-width="1.0" opacity="0.8"/>
<path d="M308.0 345.0L309.2 349.5" stroke="#9e0142" stroke-width="1.0" opacity="0.8"/>
<path d="M315.0 348.0L316.2 352.5" stroke="#9e0142" stroke-width="1.0" opacity="0.8"/>
<path d="M322.0 352.0L323.2 356.5" stroke="#9e0142" stroke-width="1.0" opacity="0.8"/>
<path d="M312.0 330.0L313.2 334.5" stroke="#9e0142" stroke-width="1.0" opacity="0.8"/>
<path d="M307.0 297.0L308.2 301.5" stroke="#9e0142" stroke-width="1.0" opacity="0.8"/>
<path d="M296.0 305.0L297.5 311.0" stroke="#fff" stroke-width="0.6" opacity="0.8"/>
<path d="M305.0 318.0L306.5 324.0" stroke="#fff" stroke-width="0.6" opacity="0.8"/>
<path d="M313.0 338.0L314.5 344.0" stroke="#fff" stroke-width="0.6" opacity="0.8"/>
<path d="M300.0 330.0L301.5 336.0" stroke="#fff" stroke-width="0.6" opacity="0.8"/>
<path d="M318.0 325.0L319.5 331.0" stroke="#fff" stroke-width="0.6" opacity="0.8"/>
<path d="M207.8 244.2L221.8 260.2L236.8 279.6L250.3 295.2L262.5 310.2L268.3 317.7L279.8 332.2L287.4 341.6L290.3 350.2" stroke="#b8305c" stroke-width="1.0"/>
<path d="M276.3 309.7L283.3 317.2L296.3 332.7L303.5 341.1" stroke="#9e0142" stroke-width="1.1"/>
<path d="M183.0 204.0L186.0 208.0" stroke="#9e0142" stroke-width="1.6"/>
<path d="M96.0 27.7L100.0 36.6L107.5 53.3L142.5 130.0L160.3 160.0L181.0 189.0L190.0 200.0L214.6 229.4L222.0 244.0L233.7 260.0L251.7 279.4L264.0 295.0L276.0 310.0L283.0 317.5L296.0 333.0L303.2 341.4L306.5 350.0L308.7 362.0L309.0 366.0L293.0 366.0L292.6 362.0L290.5 350.0L287.6 341.4L280.0 332.0L268.5 317.5L262.7 310.0L250.5 295.0L237.0 279.4L222.0 260.0L208.0 244.0L194.0 229.4L171.0 200.0L163.0 189.0L148.0 160.0L133.5 130.0L100.0 53.3L96.0 44.3Z" style="fill:#6ec7a3"/>
<path d="M149.0 153.4L162.0 172.0L174.6 189.4L186.0 205.0L197.7 220.0" stroke="#fdd784" stroke-width="1.4"/>
<path d="M150.0 153.0L156.0 164.0" stroke="#f77c46" stroke-width="0.9"/>
<path d="M240.0 270.0L256.0 290.0L270.0 306.0L283.0 322.0" stroke="#dff3ea" stroke-width="0.6" opacity="0.8"/>
<path d="M296.0 350.0L298.0 358.0" stroke="#fff" stroke-width="0.7" opacity="0.8"/>
<path d="M289.0 338.0L295.0 350.0" stroke="#fff" stroke-width="0.5" opacity="0.7"/>
<path d="M451.7 27.1L451.5 60.2L450.8 99.9L450.4 129.8L449.4 150.1L448.5 165.2" stroke="#dcf09b" stroke-width="2.6"/>
<path d="M449.5 27.1L449.3 60.2L448.7 100.0L448.7 130.2L448.8 150.2L448.9 165.2" stroke="#dcf09b" stroke-width="2.6"/>
<path d="M447.2 27.1L446.8 59.7L446.7 99.9L447.0 130.2L447.9 150.1L448.9 165.1" stroke="#dcf09b" stroke-width="2.6"/>
<path d="M475.0 199.0L480.0 192.0L484.0 186.0L482.0 193.0L487.0 186.0L491.0 178.0L489.0 188.0L494.0 180.0L497.0 172.0L496.0 180.0L500.0 172.0L504.7 164.0L503.0 174.0L506.0 168.0" stroke="#f77c46" stroke-width="1.4"/>
<path d="M476.0 196.0L483.0 190.0L488.0 192.0L493.0 184.0L498.0 186.0L503.0 178.0" stroke="#f77c46" stroke-width="1.3"/>
<path d="M478.0 200.0L486.0 197.0L495.0 193.0L506.0 190.0" stroke="#f77c46" stroke-width="1.2"/>
<path d="M477.0 198.0L481.0 194.0L485.0 189.0L484.0 195.0L489.0 190.0L492.0 183.0L491.0 191.0L496.0 185.0L499.0 176.0L498.0 184.0L502.0 178.0L505.0 170.0" stroke="#f77c46" stroke-width="1.3"/>
<path d="M480.0 199.0L487.0 195.0L491.0 196.0L497.0 190.0L501.0 191.0L506.0 185.0" stroke="#f77c46" stroke-width="1.2"/>
<path d="M476.0 250.0L480.0 252.0L481.0 262.0L484.0 262.0L484.0 256.0" stroke="#f77c46" stroke-width="1.2"/>
<path d="M486.0 250.0L490.0 253.0L491.0 261.0" stroke="#f77c46" stroke-width="1.2"/>
<path d="M489.0 214.0L489.0 219.0" stroke="#f77c46" stroke-width="1.3"/>
<path d="M475.2 29.0L474.8 80.0L474.3 140.0" stroke="#fa9752" stroke-width="1.2"/>
<path d="M474.3 140.0L474.0 200.0L473.6 280.0L473.3 364.0" stroke="#f77c46" stroke-width="1.3"/>
<path d="M475.0 76.5L475.9 76.2L477.2 75.7L478.7 75.2L480.0 74.5L481.2 73.8L482.4 72.9L483.6 72.0L484.5 71.0L485.2 69.8L485.8 68.5L486.1 67.2L486.3 66.0L486.2 64.8L485.8 63.7L485.3 62.7L485.0 62.0" stroke="#fa9752" stroke-width="1.5"/>
<path d="M461.0 283.0L460.0 286.0L461.5 288.0" stroke="#f77c46" stroke-width="1.3"/>
<path d="M438.5 29.0L441.0 36.0L444.0 43.0L446.6 48.0" stroke="#fa9752" stroke-width="1.4"/>
<path d="M442.0 29.0L444.0 35.0L446.0 40.0" stroke="#fa9752" stroke-width="1.2"/>
<path d="M433.0 59.3L435.0 63.0L437.0 65.3L440.0 63.0L442.0 61.0L444.0 57.0" stroke="#fa9752" stroke-width="1.5"/>
<path d="M446.6 52.0L445.5 60.0L445.0 67.0L444.0 75.0" stroke="#fa9752" stroke-width="1.3"/>
<path d="M431.8 80.4L433.0 85.0L435.2 91.0L437.0 104.0L439.9 128.8" stroke="#fa9752" stroke-width="1.3"/>
<path d="M451.8 95.0L451.5 120.0L451.0 140.0" stroke="#fdae61" stroke-width="0.9"/>
<path d="M478.0 275.0L480.0 277.0L481.4 278.3L483.0 276.0L482.0 279.0L485.0 281.0L489.0 285.0L491.0 291.0L492.4 297.0L495.0 304.0L497.3 310.0" stroke="#f77c46" stroke-width="1.4"/>
<ellipse cx="497.5" cy="310.5" rx="1.3" ry="1.3" fill="#f77c46"/>
<path d="M459.9 26.8L459.6 60.2L458.1 100.1L458.4 139.8L458.8 179.9L457.8 200.0L457.3 234.9L457.4 275.3L457.4 310.0L457.4 340.1L458.0 364.1" stroke="#3b7abc" stroke-width="3.2"/>
<path d="M458.8 26.8L458.2 59.9L457.2 99.9L457.2 139.8L457.1 179.9L456.7 200.2L455.7 234.9L455.5 275.0L455.5 309.8L455.6 339.9L455.9 364.3" stroke="#3b7abc" stroke-width="3.2"/>
<path d="M457.3 27.0L457.3 60.2L456.0 99.9L455.9 140.2L455.8 180.1L455.0 200.0L454.2 234.8L453.9 275.0L453.9 310.1L453.3 340.2L453.3 363.8" stroke="#3b7abc" stroke-width="3.2"/>
<path d="M456.2 27.0L456.0 59.9L454.8 99.9L454.8 140.2L454.4 180.1L454.0 199.8L452.6 235.1L452.1 274.9L451.8 309.9L451.8 340.0L451.0 363.9" stroke="#3b7abc" stroke-width="3.2"/>
<path d="M455.1 26.8L454.7 60.1L453.9 100.2L453.7 139.9L453.3 179.8L452.3 200.1L451.0 235.1L450.2 275.2L450.3 310.0L449.7 339.7L448.9 363.9" stroke="#3b7abc" stroke-width="3.2"/>
<path d="M454.2 27.0L453.6 59.7L453.2 99.8L452.7 139.9L451.8 180.1L451.2 199.7L449.3 234.8L448.3 274.9L448.0 309.8L447.5 340.1L446.5 363.8" stroke="#3b7abc" stroke-width="3.2"/>
<path d="M444.7 222.0L445.5 228.0L444.0 236.0L446.0 246.0L446.5 256.0L447.5 266.0" stroke="#3b7abc" stroke-width="1.6"/>
<path d="M449.0 216.0L446.5 222.0L448.5 229.0L449.0 236.0" stroke="#3b7abc" stroke-width="1.3"/>
<path d="M479.3 27.8L476.2 60.2L473.9 99.9L472.2 134.7L472.1 179.8L472.1 230.2L471.4 275.0L471.0 320.0L471.0 363.9" stroke="#47a3ad" stroke-width="3.0"/>
<path d="M476.7 27.2L474.4 60.0L472.1 100.2L471.2 134.8L470.9 179.8L470.9 230.0L470.6 275.2L470.4 319.7L469.9 364.1" stroke="#47a3ad" stroke-width="3.0"/>
<path d="M475.0 27.2L472.1 59.8L470.2 100.3L469.8 135.2L470.0 179.8L469.5 229.8L469.4 275.1L469.6 320.1L469.4 364.2" stroke="#47a3ad" stroke-width="3.0"/>
<path d="M472.6 27.0L469.7 60.2L468.1 100.3L468.4 134.9L468.3 179.9L468.7 230.1L468.3 274.7L468.4 320.0L468.3 363.8" stroke="#47a3ad" stroke-width="3.0"/>
<path d="M470.5 26.5L467.8 59.9L466.7 100.0L467.2 135.0L467.1 179.9L467.7 230.1L467.5 274.7L467.5 320.1L467.5 363.9" stroke="#47a3ad" stroke-width="3.0"/>
<path d="M468.4 26.9L465.7 59.5L464.4 99.9L465.7 134.8L466.2 180.2L466.3 229.8L466.9 274.9L466.8 319.8L466.4 364.2" stroke="#47a3ad" stroke-width="3.0"/>
<path d="M466.0 26.8L463.8 59.4L462.4 99.8L464.4 135.3L464.5 179.9L464.9 230.3L465.5 274.7L465.4 319.9L465.9 364.2" stroke="#47a3ad" stroke-width="3.0"/>
<path d="M464.5 30.0L463.0 70.0L462.2 110.0" stroke="#fff" stroke-width="0.9" opacity="0.9"/>
<path d="M467.5 40.0L465.5 80.0L464.5 125.0" stroke="#fff" stroke-width="0.6" opacity="0.8"/>
<path d="M461.8 100.0L461.5 150.0" stroke="#fff" stroke-width="0.8" opacity="0.9"/>
<path d="M466.6 29.0L465.5 70.0L461.0 100.0" stroke="#fdae61" stroke-width="0.9"/>
<path d="M470.0 29.0L468.5 90.0L468.2 130.0" stroke="#fdae61" stroke-width="0.8"/>
<path d="M473.5 29.0L472.0 95.0" stroke="#fdae61" stroke-width="0.8"/>
<path d="M468.5 150.0L468.3 230.0L468.3 300.0" stroke="#fdd784" stroke-width="0.6" opacity="0.8"/>
<path d="M479.2 279.4L478.6 295.0L478.0 314.6L482.5 326.8L493.5 343.3L507.0 350.0" stroke="#f9f79c" stroke-width="1.7"/>
<path d="M507.0 337.8L493.5 348.8L490.2 353.2L483.6 353.2" stroke="#f9f79c" stroke-width="1.7"/>
<path d="M487.0 199.0L494.0 190.0L499.0 183.0" stroke="#f9f79c" stroke-width="1.1"/>
<path d="M494.0 258.0L498.0 254.0L503.0 253.0L506.0 256.0" stroke="#dcf09b" stroke-width="1.3"/>
</g>
<rect x="99.7" y="28.5" width="407.1" height="334.3" fill="none" stroke="#222" stroke-width="1"/>
<g stroke="#222" stroke-width="1">
<path d="M96.2 28.5H99.7M96.2 95.35H99.7M96.2 162.2H99.7M96.2 229.05H99.7M96.2 295.95H99.7M96.2 362.8H99.7"/>
<path d="M99.7 362.8V366.2M181.1 362.8V366.2M262.5 362.8V366.2M343.95 362.8V366.2M425.4 362.8V366.2M506.8 362.8V366.2"/>
</g>
<g class="tk" text-anchor="end" style="font-size:15.6px">
<text x="93.5" y="33.8">31°17′27″</text>
<text x="93.5" y="100.7">31°12′36″</text>
<text x="93.5" y="167.7">31°7′47″</text>
<text x="93.5" y="234.6">31°2′56″</text>
<text x="93.5" y="301.6">30°58′4″</text>
<text x="93.5" y="368.5">30°53′13″</text>
</g>
<g class="tk" text-anchor="middle">
<text x="99.7" y="380.4">121°44′52″</text>
<text x="181.1" y="380.4">121°55′29″</text>
<text x="262.5" y="380.4">122°6′7″</text>
<text x="343.95" y="380.4">122°16′40″</text>
<text x="425.4" y="380.4">122°27′17″</text>
<text x="508" y="380.4">122°37′55″</text>
</g>
<text id="xl" x="302.9" y="401.2" font-size="19.2" text-anchor="middle">Longitude (E)</text>
<text id="yl" transform="translate(22,195.4) rotate(-90)" font-size="19.4" text-anchor="middle">Latitude (N)</text>
</svg>
</body></html>
